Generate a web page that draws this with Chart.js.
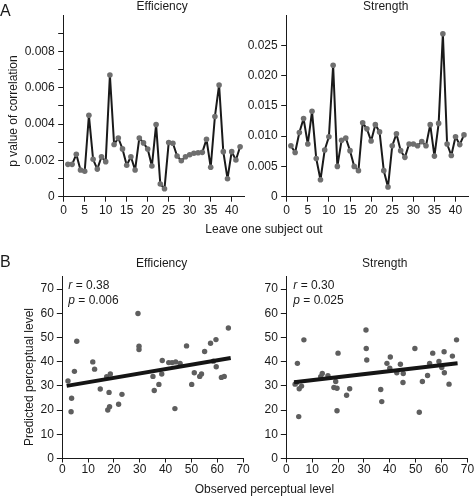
<!DOCTYPE html>
<html><head><meta charset="utf-8">
<script src="https://cdn.jsdelivr.net/npm/chart.js@4.4.1/dist/chart.umd.min.js"></script>
<style>
html,body{margin:0;padding:0;background:#fff;overflow:hidden;width:474px;height:499px;}
#wrap{position:relative;width:474px;height:499px;overflow:hidden;font-family:'Liberation Sans',Arial,Helvetica,sans-serif;color:#1a1a1a;}
canvas{position:absolute;}
.t{position:absolute;font-size:12px;line-height:14px;height:14px;white-space:nowrap;text-align:center;}
.l{text-align:left;}
.big{position:absolute;font-size:16px;line-height:18px;}
.rot{transform:rotate(-90deg);transform-origin:50% 50%;}
</style></head>
<body><div id="wrap">
<canvas id="c1" width="260" height="222" style="left:0;top:0;width:260px;height:222px"></canvas>
<canvas id="c2" width="260" height="222" style="left:230px;top:0;width:260px;height:222px"></canvas>
<canvas id="c3" width="256" height="249" style="left:0;top:250px;width:256px;height:249px"></canvas>
<canvas id="c4" width="260" height="249" style="left:234px;top:250px;width:260px;height:249px"></canvas>

<div class="big" style="left:0;top:1.7px">A</div>
<div class="big" style="left:0;top:253px">B</div>
<div class="t" style="left:112.2px;top:-0.7px;width:100px">Efficiency</div>
<div class="t" style="left:335.8px;top:-0.7px;width:100px">Strength</div>
<div class="t" style="left:111.7px;top:256px;width:100px">Efficiency</div>
<div class="t" style="left:334.8px;top:256px;width:100px">Strength</div>
<div class="t" style="left:164px;top:222px;width:200px">Leave one subject out</div>
<div class="t" style="left:164.5px;top:482px;width:200px">Observed perceptual level</div>
<div class="t rot" style="left:-57.4px;top:103.8px;width:140px">p value of correlation</div>
<div class="t rot" style="left:-51px;top:369.5px;width:160px">Predicted perceptual level</div>
<div class="t l" style="left:68.3px;top:278px"><i>r</i> = 0.38</div>
<div class="t l" style="left:68.3px;top:293px"><i>p</i> = 0.006</div>
<div class="t l" style="left:293.3px;top:278px"><i>r</i> = 0.30</div>
<div class="t l" style="left:293.3px;top:293px"><i>p</i> = 0.025</div>
</div>
<script>
// ---- data ----
const subjects = [1,2,3,4,5,6,7,8,9,10,11,12,13,14,15,16,17,18,19,20,21,22,23,24,25,26,27,28,29,30,31,32,33,34,35,36,37,38,39,40,41,42];
const effP = [0.00178,0.00178,0.00233,0.00147,0.00140,0.00448,0.00206,0.00152,0.00220,0.00193,0.00670,0.00287,0.00323,0.00263,0.00173,0.00220,0.00147,0.00323,0.00296,0.00262,0.00169,0.00397,0.00070,0.00044,0.00298,0.00294,0.00224,0.00198,0.00220,0.00231,0.00239,0.00242,0.00244,0.00316,0.00162,0.00441,0.00615,0.00248,0.00099,0.00248,0.00202,0.00275];
const strP = [0.0084,0.0073,0.0106,0.0129,0.0087,0.0141,0.0063,0.0028,0.0077,0.0099,0.0217,0.0050,0.0093,0.0097,0.0076,0.0050,0.0043,0.0122,0.0112,0.0092,0.0119,0.0107,0.0043,0.0016,0.0084,0.0104,0.0076,0.0065,0.0087,0.0087,0.0084,0.0091,0.0084,0.0119,0.0067,0.0121,0.0269,0.0087,0.0068,0.0099,0.0086,0.0102];

const effObs  = [2.2,3.6,3.4,4.7,5.6,11.8,12.5,14.7,17.2,18.6,18.1,17.6,18.3,21.8,23.1,29.3,29.7,29.7,35.1,35.6,37.4,38.7,38.5,41.2,42.5,43.9,45.6,43.6,48.1,50.1,51.1,53.2,53.9,55.1,57.4,59.5,59.6,61.6,62.7,64.3,58.5];
const effPred = [32.0,24.9,19.3,36.0,48.4,39.9,36.9,28.7,33.8,34.9,27.3,20.0,21.4,22.4,26.5,59.9,46.4,45.0,33.9,28.1,30.6,40.5,34.9,39.6,39.6,39.9,39.3,20.6,46.5,30.6,35.4,33.9,34.9,44.2,47.6,49.1,37.9,33.5,33.9,53.9,40.2];
const strObs  = [3.4,4.3,4.8,5.0,5.9,6.8,13.3,13.9,16.1,18.4,19.1,19.6,20.0,19.6,23.3,24.5,30.8,30.9,31.1,36.5,36.9,38.9,40.2,40.0,42.7,44.1,45.2,45.1,49.7,51.4,52.6,54.6,55.4,56.6,59.0,60.1,61.0,61.1,62.9,64.2,65.8,3.9];
const strPred = [30.7,39.3,17.3,28.8,29.9,49.0,33.8,35.1,34.2,29.3,31.8,29.0,43.5,19.7,26.1,28.8,53.1,45.4,40.7,28.5,23.5,39.3,41.9,37.3,35.4,38.9,35.1,31.4,45.4,19.1,31.8,34.3,39.3,43.5,40.1,37.6,44.1,35.4,30.7,42.3,49.0,31.3];

const effFitX = [1.7, 65.2], effFitY = [30.0, 41.5];
const strFitX = [3.0, 66.2], strFitY = [31.5, 39.3];

const subjTicks = [0,5,10,15,20,25,30,35,40];
const effPTicks = [0,0.001,0.002,0.003,0.004,0.005,0.006,0.007,0.008,0.009];
const strPTicks = [0,0.005,0.010,0.015,0.020,0.025];
const levelTicks = [0,10,20,30,40,50,60,70];

// ---- charts ----
const INK = '#1a1a1a';
Chart.defaults.font.family = "'Liberation Sans', Arial, Helvetica, sans-serif";
Chart.defaults.font.size = 12;
Chart.defaults.color = INK;

const pts = (xs, ys) => xs.map((x, i) => ({x: x, y: ys[i]}));
const setTicks = arr => (s => { s.ticks = arr.map(v => ({value: v})); });

function axis(o) {
  return {
    type: 'linear', min: o.min, max: o.max,
    afterBuildTicks: setTicks(o.ticks),
    afterFit: o.fit,
    grid: {drawOnChartArea: false, color: INK, tickLength: o.tl, tickWidth: 1},
    border: {color: INK, width: 1},
    ticks: {padding: o.pad, autoSkip: false, maxRotation: 0, minRotation: 0, callback: o.cb, color: INK}
  };
}
function base(padding, scales) {
  return {
    responsive: false, animation: false, events: [],
    layout: {padding: padding},
    plugins: {legend: {display: false}, tooltip: {enabled: false}, title: {display: false}},
    scales: scales
  };
}
const fmtP = (v) => v === 0 ? '0' : v.toFixed(3);

function lineChart(id, ys, yTicks, yMax, yWidth, pad, cb) {
  new Chart(document.getElementById(id), {
    type: 'line',
    data: {datasets: [{
      data: pts(subjects, ys), borderColor: INK, borderWidth: 2, tension: 0,
      borderJoinStyle: 'round', borderCapStyle: 'round',
      pointRadius: 2.8, pointBackgroundColor: '#6f6f6f', pointBorderWidth: 0
    }]},
    options: base(pad, {
      x: axis({min: 0, max: 43, ticks: subjTicks, fit: s => { s.height = 20; }, tl: 5, pad: 2, cb: v => String(v)}),
      y: axis({min: 0, max: yMax, ticks: yTicks, fit: s => { s.width = yWidth; }, tl: 5.5, pad: 3.5, cb: cb})
    })
  });
}
lineChart('c1', effP, effPTicks, 0.010, 63.7, {left: 0, top: 15, right: 15.7, bottom: 5.3},
  (v, i) => i % 2 === 0 ? fmtP(v) : '');
lineChart('c2', strP, strPTicks, 0.030, 56.7, {left: 0, top: 15, right: 21.8, bottom: 5.3},
  (v) => fmtP(v));

function scatterChart(id, xs, ys, fx, fy, yWidth, pad) {
  new Chart(document.getElementById(id), {
    type: 'scatter',
    data: {datasets: [
      {data: pts(fx, fy), showLine: true, borderColor: '#151515', borderWidth: 4, pointRadius: 0, borderCapStyle: 'butt'},
      {data: pts(xs, ys), pointRadius: 2.7, pointBackgroundColor: '#5e5e5e', pointBorderWidth: 0}
    ]},
    options: base(pad, {
      x: axis({min: 0, max: 70, ticks: levelTicks, fit: s => { s.height = 20; }, tl: 4, pad: 0, cb: v => String(v)}),
      y: axis({min: 0, max: 75, ticks: levelTicks, fit: s => { s.width = yWidth; }, tl: 5.5, pad: 3, cb: v => String(v)})
    })
  });
}
// chart area: top 276.9, bottom 458.5 (canvas top 250, height 249)
scatterChart('c3', effObs, effPred, effFitX, effFitY, 62.3, {left: 0, top: 26.9, right: 12.9, bottom: 20.5});
scatterChart('c4', strObs, strPred, strFitX, strFitY, 52.3, {left: 0, top: 26.9, right: 26.6, bottom: 20.5});
</script>
</body></html>
